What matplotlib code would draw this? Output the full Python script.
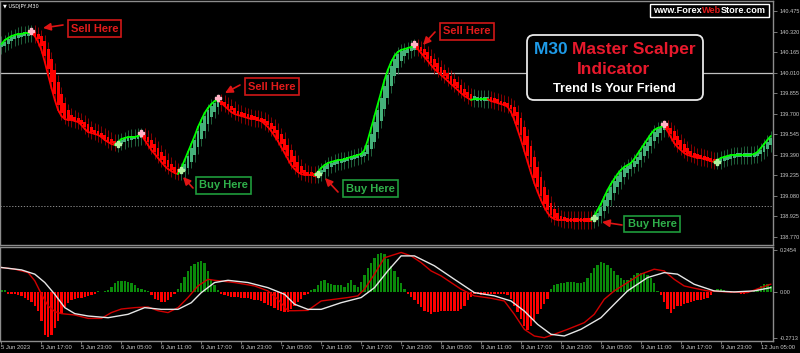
import numpy as np
import matplotlib
matplotlib.use("Agg")
import matplotlib.pyplot as plt
from matplotlib.collections import LineCollection
from matplotlib.patches import FancyBboxPatch, Rectangle

# ---------------- data ----------------
close = [
    140.226, 140.256, 140.271, 140.286, 140.294, 140.302, 140.302, 140.309, 140.309, 140.309,
    140.286, 140.241, 140.181, 140.090, 139.992, 139.894, 139.804, 139.728, 139.683, 139.660,
    139.653, 139.653, 139.645, 139.638, 139.615, 139.585, 139.562, 139.555, 139.547, 139.540,
    139.524, 139.502, 139.487, 139.472, 139.464, 139.487, 139.509, 139.517, 139.524, 139.524,
    139.524, 139.532, 139.540, 139.502, 139.464, 139.426, 139.396, 139.366, 139.336, 139.306,
    139.283, 139.268, 139.253, 139.245, 139.291, 139.351, 139.411, 139.472, 139.532, 139.600,
    139.653, 139.706, 139.743, 139.773, 139.796, 139.804, 139.781, 139.758, 139.736, 139.713,
    139.698, 139.690, 139.683, 139.675, 139.668, 139.660, 139.660, 139.653, 139.645, 139.623,
    139.600, 139.570, 139.532, 139.494, 139.449, 139.404, 139.358, 139.313, 139.283, 139.260,
    139.245, 139.238, 139.238, 139.238, 139.238, 139.260, 139.291, 139.313, 139.328, 139.336,
    139.343, 139.351, 139.351, 139.358, 139.366, 139.374, 139.381, 139.389, 139.396, 139.426,
    139.502, 139.592, 139.683, 139.773, 139.864, 139.954, 140.030, 140.090, 140.136, 140.166,
    140.181, 140.188, 140.196, 140.203, 140.211, 140.188, 140.158, 140.128, 140.098, 140.068,
    140.037, 140.015, 139.992, 139.970, 139.947, 139.924, 139.902, 139.879, 139.856, 139.834,
    139.819, 139.804, 139.811, 139.811, 139.811, 139.811, 139.811, 139.796, 139.789, 139.781,
    139.773, 139.766, 139.751, 139.713, 139.653, 139.577, 139.502, 139.419, 139.336, 139.253,
    139.177, 139.110, 139.049, 138.996, 138.951, 138.921, 138.906, 138.898, 138.898, 138.898,
    138.898, 138.898, 138.898, 138.898, 138.898, 138.898, 138.898, 138.898, 138.929, 138.974,
    139.019, 139.072, 139.125, 139.170, 139.208, 139.245, 139.276, 139.298, 139.313, 139.328,
    139.358, 139.396, 139.434, 139.472, 139.509, 139.547, 139.577, 139.592, 139.600, 139.607,
    139.570, 139.524, 139.479, 139.449, 139.426, 139.404, 139.389, 139.381, 139.374, 139.366,
    139.366, 139.358, 139.351, 139.343, 139.336, 139.351, 139.366, 139.374, 139.381, 139.389,
    139.389, 139.389, 139.389, 139.389, 139.389, 139.389, 139.396, 139.411, 139.441, 139.472,
    139.502, 139.532,
]

hist = [
    0.01, 0.01, -0.01, -0.01, -0.01, -0.02, -0.025, -0.035, -0.045, -0.06,
    -0.08, -0.11, -0.17, -0.25, -0.264, -0.25, -0.21, -0.17, -0.13, -0.09,
    -0.063, -0.05, -0.043, -0.037, -0.033, -0.03, -0.025, -0.02, -0.01, 0.003,
    -0.003, 0.003, 0.01, 0.03, 0.05, 0.062, 0.064, 0.064, 0.06, 0.052,
    0.04, 0.025, 0.015, 0.01, 0.005, -0.02, -0.04, -0.05, -0.058, -0.06,
    -0.05, -0.03, -0.01, 0.02, 0.05, 0.09, 0.12, 0.15, 0.165, 0.175,
    0.18, 0.17, 0.12, 0.07, 0.04, 0.01, -0.015, -0.02, -0.025, -0.028,
    -0.03, -0.03, -0.033, -0.035, -0.037, -0.04, -0.045, -0.05, -0.055, -0.065,
    -0.075, -0.085, -0.095, -0.105, -0.11, -0.12, -0.115, -0.1, -0.08, -0.06,
    -0.04, -0.02, -0.01, 0.01, 0.02, 0.04, 0.065, 0.068, 0.055, 0.045,
    0.04, 0.04, 0.04, 0.03, 0.05, 0.07, 0.04, 0.03, 0.06, 0.1,
    0.14, 0.17, 0.2, 0.22, 0.23, 0.22, 0.19, 0.15, 0.12, 0.09,
    0.05, 0.02, -0.01, -0.03, -0.05, -0.07, -0.09, -0.11, -0.12, -0.13,
    -0.12, -0.115, -0.11, -0.11, -0.11, -0.11, -0.11, -0.11, -0.1, -0.08,
    -0.05, -0.03, -0.01, -0.015, -0.02, -0.02, -0.015, -0.01, -0.01, -0.01,
    -0.01, -0.015, -0.02, -0.04, -0.08, -0.12, -0.16, -0.2, -0.225, -0.2,
    -0.17, -0.13, -0.1, -0.07, -0.04, 0.02, 0.04, 0.045, 0.05, 0.055,
    0.06, 0.06, 0.06, 0.055, 0.055, 0.06, 0.08, 0.11, 0.14, 0.16,
    0.178, 0.17, 0.16, 0.14, 0.12, 0.1, 0.08, 0.07, 0.07, 0.08,
    0.1, 0.11, 0.11, 0.11, 0.1, 0.08, 0.05, 0.005, -0.02, -0.06,
    -0.1, -0.121, -0.1, -0.085, -0.08, -0.07, -0.065, -0.06, -0.055, -0.05,
    -0.045, -0.04, -0.035, -0.02, 0.01, 0.015, 0.015, 0.01, 0.005, -0.005,
    0.005, -0.005, -0.01, -0.01, -0.005, 0.005, 0.01, 0.02, 0.035, 0.045,
    0.045, 0.035,
]

fast_idx = [0, 4, 8, 10, 12, 14, 16, 18, 22, 26, 30, 33, 36, 40, 44, 47, 50, 53, 56, 59,
            62, 64, 70, 76, 80, 83, 86, 88, 92, 96, 100, 104, 107, 109, 112, 115, 120, 123,
            126, 129, 132, 135, 138, 142, 147, 151, 154, 157, 160, 163, 166, 170, 175, 178,
            181, 184, 188, 192, 196, 199, 202, 205, 208, 212, 218, 224, 228, 231]
fast_val = [0.143, 0.133, 0.113, 0.065, -0.014, -0.082, -0.115, -0.127, -0.135, -0.155,
            -0.155, -0.121, -0.10, -0.092, -0.088, -0.11, -0.121, -0.092, -0.033, 0.035,
            0.074, 0.068, 0.055, 0.035, 0.006, -0.043, -0.11, -0.11, -0.108, -0.053,
            -0.043, -0.033, -0.023, 0.016, 0.104, 0.20, 0.231, 0.211, 0.172, 0.123,
            0.094, 0.055, 0.016, -0.023, -0.037, -0.053, -0.131, -0.219, -0.258, -0.268,
            -0.248, -0.219, -0.18, -0.131, -0.043, 0.006, 0.055, 0.104, 0.133, 0.123,
            0.074, 0.035, 0.022, 0.006, 0.0, -0.004, 0.025, 0.045]

slow_idx = [0, 6, 10, 13, 16, 19, 22, 26, 32, 38, 43, 48, 53, 57, 60, 64, 68, 74, 80, 85,
            88, 92, 96, 102, 108, 112, 116, 120, 124, 130, 136, 142, 148, 153, 157, 161,
            165, 169, 174, 180, 184, 188, 194, 199, 203, 208, 214, 220, 226, 231]
slow_val = [0.143, 0.129, 0.104, 0.055, -0.014, -0.092, -0.127, -0.141, -0.151, -0.131,
            -0.092, -0.102, -0.102, -0.063, -0.004, 0.055, 0.068, 0.055, 0.025, -0.014,
            -0.072, -0.102, -0.102, -0.063, -0.033, 0.025, 0.123, 0.211, 0.211, 0.153,
            0.074, -0.004, -0.023, -0.053, -0.112, -0.19, -0.248, -0.258, -0.219, -0.151,
            -0.072, 0.006, 0.084, 0.113, 0.104, 0.045, 0.006, 0.0, 0.006, 0.025]

sell_idx = [9, 42, 65, 124, 199]
buy_idx = [35, 54, 95, 178, 215]

price_ticks = [140.475, 140.320, 140.165, 140.010, 139.855, 139.700, 139.545,
               139.390, 139.235, 139.080, 138.925, 138.770]
osc_ticks = [0.2454, 0.0, -0.2713]
osc_labels = ["0.2454", "0.00", "-0.2713"]
time_labels = ["5 Jun 2023", "5 Jun 17:00", "5 Jun 23:00", "6 Jun 05:00", "6 Jun 11:00",
               "6 Jun 17:00", "6 Jun 23:00", "7 Jun 05:00", "7 Jun 11:00", "7 Jun 17:00",
               "7 Jun 23:00", "8 Jun 05:00", "8 Jun 11:00", "8 Jun 17:00", "8 Jun 23:00",
               "9 Jun 05:00", "9 Jun 11:00", "9 Jun 17:00", "9 Jun 23:00", "12 Jun 05:00"]
time_step = 12
hline_solid = 140.010
hline_dotted = 139.005

# ---------------- figure ----------------
W, H = 800, 353
fig = plt.figure(figsize=(W / 100, H / 100), dpi=100, facecolor="black")


def fy(py):
    return 1 - py / H


GRID = "#8c8c8c"
LBL = "#c8c8c8"
BOLD = ["Liberation Sans", "DejaVu Sans"]

ax = fig.add_axes([0, fy(245), 773 / W, (245 - 1) / H], facecolor="black")
ax2 = fig.add_axes([0, fy(341), 773 / W, (341 - 247) / H], facecolor="black")

c = np.array(close)
n = len(c)
x = np.arange(n)

# Heiken-Ashi style candles derived from the closes
hc = np.empty(n)
hc[0] = c[0]
hc[1:] = (c[1:] + c[:-1]) / 2
ho = np.empty(n)
ho[0] = c[0] - 0.015
for i in range(1, n):
    ho[i] = (ho[i - 1] + hc[i - 1]) / 2

up = np.zeros(n, dtype=bool)
state = True
for i in range(n):
    if i > 0 and c[i] > c[i - 1]:
        state = True
    elif i > 0 and c[i] < c[i - 1]:
        state = False
    up[i] = state

mid = (ho + hc) / 2
h = np.maximum(np.abs(hc - ho), 0.03)
bot = mid - h / 2
body_col = np.where(up, "#45b07a", "#ff0000")
wick_col = np.where(up, "#246f45", "#a00000")

ax.vlines(x, bot - 0.05, bot + h + 0.05, colors=wick_col, lw=0.6, zorder=2)
ax.bar(x, h, bottom=bot, width=0.85, color=body_col, linewidth=0, zorder=3)

pts = np.column_stack([x, c])
segs = np.stack([pts[:-1], pts[1:]], axis=1)
seg_col = np.where(up[1:], "#00ff00", "#ff0000")
ax.add_collection(LineCollection(segs, colors=seg_col, linewidths=1.3, zorder=4,
                                 capstyle="round", joinstyle="round"))

ax.plot(sell_idx, c[sell_idx] + 0.012, ls="none", marker="P", ms=4.5,
        color="#ffb3c6", mec="#ffb3c6", zorder=6)
ax.plot(buy_idx, c[buy_idx] - 0.012, ls="none", marker="P", ms=4.5,
        color="#b0f0a0", mec="#b0f0a0", zorder=6)

ax.axhline(hline_solid, color="#c0c0c0", lw=0.9, zorder=1)
ax.axhline(hline_dotted, color="#a0a0a0", lw=0.6, ls=(0, (1.5, 2)), zorder=1)

ax.set_xlim(-0.45, 231.68)
ax.set_ylim(138.7097, 140.5505)
ax.yaxis.tick_right()
ax.set_yticks(price_ticks)
ax.set_yticklabels([f"{v:.3f}" for v in price_ticks])
ax.set_xticks([])
ax.tick_params(axis="y", colors=GRID, labelcolor=LBL, labelsize=4, length=3,
               width=0.6, pad=1.5)
for t in ax.get_yticklabels():
    t.set_family("Liberation Sans")

# ---------------- oscillator ----------------
hv = np.array(hist)
ax2.bar(x, hv, width=0.7, color=np.where(hv >= 0, "#0a8a0a", "#ff0000"), linewidth=0, zorder=2)
ax2.plot(fast_idx, fast_val, color="#d00000", lw=1.0, zorder=3)
ax2.plot(slow_idx, slow_val, color="#e6e6e6", lw=1.0, zorder=3)
ax2.set_xlim(-0.45, 231.68)
ax2.set_ylim(-0.2873, 0.263)
ax2.yaxis.tick_right()
ax2.set_yticks(osc_ticks)
ax2.set_yticklabels(osc_labels)
ax2.tick_params(axis="y", colors=GRID, labelcolor=LBL, labelsize=4, length=3,
                width=0.6, pad=1.5)
ax2.set_xticks(np.arange(len(time_labels)) * time_step)
ax2.set_xticklabels(time_labels)
ax2.tick_params(axis="x", colors=GRID, labelcolor=LBL, labelsize=4.2, length=2,
                width=0.6, pad=1)
for t in ax2.get_xticklabels():
    t.set_ha("left")
    t.set_family("Liberation Sans")
for t in ax2.get_yticklabels():
    t.set_family("Liberation Sans")

for a in (ax, ax2):
    for s in a.spines.values():
        s.set_color(GRID)
        s.set_linewidth(1.0)

# ---------------- overlay annotations (pixel coordinates) ----------------
ov = fig.add_axes([0, 0, 1, 1], zorder=10)
ov.set_xlim(0, W)
ov.set_ylim(H, 0)
ov.axis("off")
ov.patch.set_alpha(0)

ov.text(3, 6.5, "▼ USDJPY,M30", color="white", fontsize=3.6, va="center", ha="left",
        family="DejaVu Sans")

RED = "#e01b1b"
GRN = "#2fb04a"
sell_boxes = [(94.5, 28.5), (272, 86.5), (467, 31.5)]
buy_boxes = [(223.5, 185.5), (370.5, 188.5), (652, 224)]
for bx, by in sell_boxes:
    ov.text(bx, by, "Sell Here", color=RED, fontsize=8, fontweight="bold", family=BOLD,
            ha="center", va="center",
            bbox=dict(boxstyle="square,pad=0.28", fc="black", ec="#d01818", lw=1.2))
for bx, by in buy_boxes:
    ov.text(bx, by, "Buy Here", color=GRN, fontsize=8, fontweight="bold", family=BOLD,
            ha="center", va="center",
            bbox=dict(boxstyle="square,pad=0.28", fc="black", ec="#1f9c3c", lw=1.2))

arrows = [((63, 25), (43, 28)), ((240, 85), (225, 93)), ((435, 32), (423, 45)),
          ((193, 188), (183, 177)), ((338, 192), (325, 178)), ((622, 225), (602, 222))]
for start, end in arrows:
    ov.annotate("", xy=end, xytext=start,
                arrowprops=dict(arrowstyle="-|>,head_length=0.45,head_width=0.22",
                                color="#e01515", lw=1.2, shrinkA=0, shrinkB=0))

renderer = fig.canvas.get_renderer()


def multicolor(parts, cx, cy, size):
    texts = []
    for s, col in parts:
        t = ov.text(0, cy, s, color=col, fontsize=size, fontweight="bold", family=BOLD,
                    ha="left", va="center")
        texts.append(t)
    widths = [t.get_window_extent(renderer=renderer).width for t in texts]
    xs = cx - sum(widths) / 2
    for t, w in zip(texts, widths):
        t.set_x(xs)
        xs += w


# website box
ov.add_patch(Rectangle((650, 4), 119, 12.5, fc="black", ec="white", lw=1.0))
multicolor([("www.Forex", "white"), ("Web", "#e01b1b"), ("Store.com", "white")],
           709.5, 10.5, 6.6)

# title box
ov.add_patch(FancyBboxPatch((527, 35), 176, 65, boxstyle="round,pad=0,rounding_size=7",
                            fc="black", ec="#e8e8e8", lw=1.3))
multicolor([("M30 ", "#1e9be8"), ("Master Scalper", "#e8192c")], 615, 49.5, 12.5)
ov.text(614, 69.5, "Indicator", color="#e8192c", fontsize=12.5, fontweight="bold",
        family=BOLD, ha="center", va="center")
ov.text(614.5, 88.5, "Trend Is Your Friend", color="white", fontsize=9.2, fontweight="bold",
        family=BOLD, ha="center", va="center")

fig.savefig("out.png", dpi=100, facecolor="black")
